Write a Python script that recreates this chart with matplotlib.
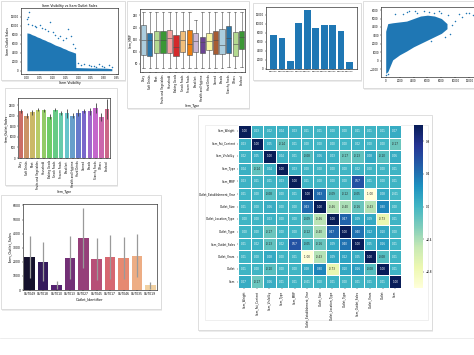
import matplotlib
matplotlib.use("Agg")
import matplotlib.pyplot as plt
import numpy as np
import seaborn as sns
from matplotlib.patches import Rectangle

W, H = 474, 355

# ---- data ----
item_types = ["Dairy", "Soft Drinks", "Meat", "Fruits and Vegetables", "Household",
              "Baking Goods", "Snack Foods", "Frozen Foods", "Breakfast",
              "Health and Hygiene", "Hard Drinks", "Canned", "Breads",
              "Starchy Foods", "Others", "Seafood"]
outlets = ["OUT049", "OUT018", "OUT010", "OUT013", "OUT027",
           "OUT045", "OUT017", "OUT046", "OUT035", "OUT019"]

# panel 1: visibility vs sales (dense band edges + sparse points)
vis_band_x = [0.0, 0.01, 0.02, 0.03, 0.04, 0.05, 0.06, 0.07, 0.08, 0.09, 0.10,
              0.11, 0.12, 0.13, 0.14, 0.15, 0.16, 0.17, 0.18, 0.189, 0.19,
              0.22, 0.25, 0.28, 0.31, 0.33]
vis_band_top = [8400, 8300, 8000, 7800, 7500, 7300, 7000, 6800, 6500, 6300, 6000,
                5700, 5500, 5300, 5000, 4800, 4500, 4300, 4100, 3900, 700,
                650, 600, 600, 550, 450]
vis_pts_x = [0.010, 0.005, 0.0, 0.004, 0.02, 0.03, 0.05, 0.09, 0.035, 0.06, 0.10,
             0.13, 0.16, 0.17, 0.12, 0.14, 0.18, 0.185, 0.07, 0.08, 0.11, 0.15,
             0.20, 0.22, 0.24, 0.26, 0.28, 0.30, 0.32, 0.33, 0.25, 0.21, 0.27, 0.29]
vis_pts_y = [13100, 12000, 11500, 10300, 10200, 10000, 10100, 10900, 9800, 9500, 8500,
             7800, 9200, 7600, 7300, 6800, 6000, 5000, 9200, 8800, 7900, 7300,
             1800, 1500, 1300, 1100, 1400, 900, 1200, 800, 1000, 1200, 850, 1000]

# panel 2: Item_MRP boxes
mrp_q1 = [86, 82, 96, 96, 96, 82, 100, 86, 99, 96, 106, 89, 89, 92, 82, 110]
mrp_med = [148, 148, 148, 148, 155, 117, 148, 131, 145, 141, 145, 148, 128, 156, 131, 159]
mrp_q3 = [212, 177, 184, 187, 191, 170, 184, 190, 177, 162, 177, 184, 194, 205, 180, 184]
mrp_lo = [32, 32, 33, 32, 32, 33, 32, 33, 33, 32, 33, 32, 33, 35, 33, 34]
mrp_hi = [266, 266, 265, 266, 266, 266, 266, 266, 232, 266, 266, 266, 265, 265, 265, 266]

# panel 3: max sales per outlet
outlet_max = [7646, 6768, 1775, 10257, 13087, 8995, 9664, 9779, 8480, 1483]

# panel 4: predicted vs actual (band edges + sparse points)
pred_band_x = [0, 300, 1000, 2000, 3000, 4000, 5000, 6000, 7000, 8000, 8800]
pred_band_lo = [-1500, -1300, 100, 700, 1150, 1650, 2050, 2450, 2850, 3250, 3800]
pred_band_hi = [3500, 4400, 4500, 4600, 4700, 5000, 5300, 5400, 5300, 5000, 4400]
pred_pts_x = [1300, 3000, 4500, 5500, 7000, 8000, 9000, 10500, 11500, 12500, 9500,
              10000, 9200, 8500, 6500, 3300, 2500, 4200, 6200, 7600, 11000, 12000, 100, 300]
pred_pts_y = [5500, 5800, 5700, 5900, 5700, 5600, 5400, 5500, 5600, 5400, 4200,
              4700, 3200, 2800, 2300, 5900, 5500, 5850, 5800, 5900, 5200, 5700, -1700, -1600]

# panel 5: mean sales by item type (+ ci)
type_sales = [2232, 2006, 2158, 2289, 2258, 1952, 2277, 2132, 2111, 2010,
              2139, 2225, 2204, 2374, 1926, 2326]
type_err = [110, 130, 120, 75, 85, 120, 70, 95, 230, 100, 170, 110, 160, 230, 190, 460]

# panel 6: mean sales by outlet (+ sd)
outlet_mean = [2348, 1995, 340, 2298, 3694, 2192, 2340, 2278, 2439, 340]
outlet_sd = [1513, 1375, 272, 1533, 2127, 1463, 1550, 1488, 1538, 249]

# panel 7: correlation matrix
corr_labels = ["Item_Weight", "Item_Fat_Content", "Item_Visibility", "Item_Type",
               "Item_MRP", "Outlet_Establishment_Year", "Outlet_Size",
               "Outlet_Location_Type", "Outlet_Type", "Item_Outlet_Sales",
               "Outlet_Years", "Outlet", "Item"]
corr = [
    [1.00, 0.03, 0.02, 0.04, 0.03, 0.01, 0.01, 0.00, 0.00, 0.01, 0.01, 0.01, 0.07],
    [0.03, 1.00, 0.05, -0.14, 0.01, 0.00, 0.00, 0.00, 0.00, 0.02, 0.00, 0.00, -0.17],
    [0.02, 0.05, 1.00, 0.04, 0.01, -0.08, 0.06, 0.03, -0.17, -0.13, 0.08, -0.10, 0.06],
    [0.04, -0.14, 0.04, 1.00, 0.03, 0.00, 0.00, 0.00, 0.00, 0.02, 0.00, 0.00, 0.01],
    [0.03, 0.01, 0.01, 0.03, 1.00, 0.01, 0.00, 0.00, 0.00, 0.57, 0.01, 0.00, 0.01],
    [0.01, 0.00, -0.08, 0.00, 0.01, 1.00, 0.43, -0.09, -0.12, -0.05, -1.00, 0.08, -0.01],
    [0.01, 0.00, 0.06, 0.00, 0.00, 0.43, 1.00, -0.46, -0.40, -0.16, -0.43, 0.30, 0.00],
    [0.00, 0.00, 0.03, 0.00, 0.00, -0.09, -0.46, 1.00, 0.47, 0.09, 0.09, -0.73, 0.01],
    [0.00, 0.00, -0.17, 0.00, 0.00, -0.12, -0.40, 0.47, 1.00, 0.40, 0.12, 0.10, 0.00],
    [0.01, 0.02, -0.13, 0.02, 0.57, -0.05, -0.16, 0.09, 0.40, 1.00, 0.05, 0.16, 0.01],
    [0.01, 0.00, 0.08, 0.00, 0.01, -1.00, -0.43, 0.09, 0.12, 0.05, 1.00, -0.08, 0.01],
    [0.01, 0.00, -0.10, 0.00, 0.00, 0.08, 0.30, -0.73, 0.10, 0.16, -0.08, 1.00, 0.01],
    [0.07, -0.17, 0.06, 0.01, 0.01, -0.01, 0.00, 0.01, 0.00, 0.01, 0.01, 0.01, 1.00],
]
cbar_ticks = [-0.8, -0.4, 0.0, 0.4, 0.8]

BLUE = "#1f77b4"

fig = plt.figure(figsize=(W / 100, H / 100), dpi=100)


def rect(x0, y0, x1, y1):
    return [x0 / W, 1 - y1 / H, (x1 - x0) / W, (y1 - y0) / H]


def card(x0, y0, x1, y1):
    fig.add_artist(Rectangle(((x0 + 1) / W, 1 - (y1 + 1.5) / H), (x1 - x0) / W, (y1 - y0) / H,
                             transform=fig.transFigure, facecolor="#ececec",
                             edgecolor="none", zorder=-6))
    fig.add_artist(Rectangle((x0 / W, 1 - y1 / H), (x1 - x0) / W, (y1 - y0) / H,
                             transform=fig.transFigure, facecolor="white",
                             edgecolor="#d2d2d2", lw=0.5, zorder=-5))


def style(ax, fs=2.0):
    ax.tick_params(labelsize=fs, length=1, width=0.3, pad=0.6)
    for s in ax.spines.values():
        s.set_linewidth(0.4)


for c in [(1, 1, 125, 80), (127, 1, 249, 108), (253, 3, 361, 80), (363, 1, 476, 88),
          (5, 88, 117, 185), (1, 195, 161, 309), (198, 115, 432, 330)]:
    card(*c)
fig.add_artist(Rectangle((205 / W, 1 - 320 / H), 223 / W, 195 / H, transform=fig.transFigure,
                         facecolor="none", edgecolor="#e4e4e4", lw=0.4, zorder=-4))
fig.add_artist(plt.Line2D([0, 1], [1 - 338 / H, 1 - 338 / H], transform=fig.transFigure,
                          color="#e6e6e6", lw=0.5, zorder=-6))

# ---- panel 1 ----
ax1 = fig.add_axes(rect(21, 8, 118, 74))
ax1.fill_between(vis_band_x, 0, vis_band_top, color=BLUE, lw=0)
ax1.scatter(vis_pts_x, vis_pts_y, s=1.2, color=BLUE, lw=0)
ax1.set_xlim(-0.023, 0.354)
ax1.set_ylim(-730, 13930)
ax1.set_xticks(np.arange(0, 0.36, 0.05))
ax1.set_yticks(range(0, 12001, 2000))
ax1.set_title("Item Visibility vs Item Outlet Sales", fontsize=2.3, pad=1)
ax1.set_xlabel("Item Visibility", fontsize=2.3, labelpad=0.8)
ax1.set_ylabel("Item Outlet Sales", fontsize=2.3, labelpad=0.8)
style(ax1, 1.9)

# ---- panel 2 ----
ax2 = fig.add_axes(rect(140, 9, 245, 72))
stats = [dict(q1=a, med=b, q3=c, whislo=d, whishi=e, fliers=[])
         for a, b, c, d, e in zip(mrp_q1, mrp_med, mrp_q3, mrp_lo, mrp_hi)]
bp = ax2.bxp(stats, positions=range(len(item_types)), widths=0.8, patch_artist=True,
             boxprops=dict(lw=0.4, edgecolor="#4a4a4a"),
             medianprops=dict(lw=0.4, color="#4a4a4a"),
             whiskerprops=dict(lw=0.4, color="#4a4a4a"),
             capprops=dict(lw=0.4, color="#4a4a4a"))
paired = [sns.desaturate(c, 0.85) for c in sns.color_palette("Paired", 16)]
for patch, col in zip(bp["boxes"], paired):
    patch.set_facecolor(col)
ax2.set_xlim(-0.5, 15.5)
ax2.set_ylim(15, 277)
ax2.set_yticks([50, 100, 150, 200, 250])
ax2.set_xticks(range(len(item_types)))
ax2.set_xticklabels(item_types, rotation=90)
ax2.set_xlabel("Item_Type", fontsize=2.2, labelpad=0.8)
ax2.set_ylabel("Item_MRP", fontsize=2.2, labelpad=0.8)
style(ax2, 1.9)

# ---- panel 3 ----
ax3 = fig.add_axes(rect(266, 7, 357, 69))
ax3.bar(outlets, outlet_max, color=BLUE, width=0.8)
ax3.set_yticks(range(0, 12001, 2000))
style(ax3, 1.9)
ax3.tick_params(axis="x", labelsize=1.5)

# ---- panel 4 ----
ax4 = fig.add_axes(rect(381, 7, 480, 77))
ax4.fill_between(pred_band_x, pred_band_lo, pred_band_hi, color=BLUE, lw=0)
ax4.scatter(pred_pts_x, pred_pts_y, s=1.2, color=BLUE, lw=0)
ax4.set_xlim(-675, 13540)
ax4.set_ylim(-1930, 6370)
ax4.set_xticks(range(0, 12001, 2000))
ax4.set_yticks(range(-1000, 6001, 1000))
style(ax4, 1.9)

# ---- panel 5 ----
ax5 = fig.add_axes(rect(18, 98, 110, 158))
hls = [sns.desaturate(c, 0.75) for c in sns.color_palette("hls", 16)]
ax5.bar(range(len(item_types)), type_sales, width=0.8, color=hls,
        yerr=type_err, error_kw=dict(ecolor="#424242", elinewidth=0.6))
ax5.set_xlim(-0.5, 15.5)
ax5.set_ylim(0, 2840)
ax5.set_xticks(range(len(item_types)))
ax5.set_xticklabels(item_types, rotation=90)
ax5.set_yticks(range(0, 2501, 500))
ax5.set_xlabel("Item_Type", fontsize=2.2, labelpad=0.8)
ax5.set_ylabel("Item_Outlet_Sales", fontsize=2.2, labelpad=0.8)
style(ax5, 1.9)

# ---- panel 6 ----
ax6 = fig.add_axes(rect(23, 204, 157, 290))
mag = [sns.desaturate(c, 0.75) for c in sns.color_palette("magma", 10)]
ax6.bar(range(len(outlets)), outlet_mean, width=0.8, color=mag,
        yerr=outlet_sd, error_kw=dict(ecolor="#9a9a9a", elinewidth=0.9))
ax6.set_xlim(-0.5, 9.5)
ax6.set_ylim(0, 6100)
ax6.set_xticks(range(len(outlets)))
ax6.set_xticklabels(outlets)
ax6.set_xlabel("Outlet_Identifier", fontsize=2.4, labelpad=0.8)
ax6.set_ylabel("Item_Outlet_Sales", fontsize=2.4, labelpad=0.8)
style(ax6, 2.2)

# ---- panel 7 ----
ax7 = fig.add_axes(rect(238, 125, 401.5, 288))
cax = fig.add_axes(rect(414, 125, 423, 288))
sns.heatmap(np.array(corr), ax=ax7, cbar_ax=cax, cmap="YlGnBu", vmin=-1, vmax=1,
            annot=True, fmt=".2f", annot_kws=dict(size=2), linewidths=0.4,
            linecolor="white", xticklabels=corr_labels, yticklabels=corr_labels,
            cbar_kws=dict(ticks=cbar_ticks))
ax7.tick_params(labelsize=2, length=1, width=0.3, pad=0.8)
plt.setp(ax7.get_xticklabels(), rotation=90)
plt.setp(ax7.get_yticklabels(), rotation=0)
cax.tick_params(labelsize=2, length=1, width=0.3, pad=0.8)
cbar = ax7.collections[0].colorbar
if cbar is not None:
    cbar.outline.set_linewidth(0)

fig.savefig("out.png", dpi=100)
